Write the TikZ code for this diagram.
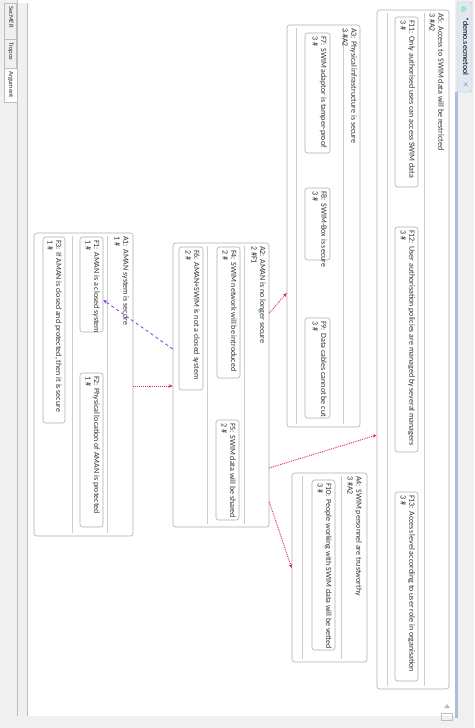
\documentclass[tikz,border=0pt]{standalone}
\usepackage{fontspec}
\setmainfont{Carlito}
\usetikzlibrary{fit,arrows.meta}

\definecolor{boxline}{RGB}{175,175,175}
\definecolor{sepline}{RGB}{205,205,205}
\definecolor{linkred}{RGB}{228,40,70}
\definecolor{linkpurple}{RGB}{135,55,235}
\definecolor{chrome}{RGB}{240,240,240}
\definecolor{chromeline}{RGB}{190,190,190}
\definecolor{tabblue}{RGB}{170,190,220}

\begin{document}
\begin{tikzpicture}[x=1pt,y=-1pt,
  goal/.style={draw=boxline, rounded corners=2.5pt, fill=white, inner sep=0pt, line width=0.6pt},
  fact/.style={goal},
  lbl/.style={rotate=-90, anchor=north west, align=left, inner sep=0pt, font=\fontsize{8}{8.6}\selectfont, text=black!80},
  tablbl/.style={lbl, font=\fontsize{6.6}{7}\selectfont},
  comp/.style={draw=sepline, line width=0.6pt},
  support/.style={draw=linkred, densely dotted, line width=0.9pt, -{Stealth[length=4pt,width=3.5pt]}},
  conflict/.style={draw=linkpurple, dashed, line width=0.8pt, -{Stealth[length=4pt,width=3.5pt]}}]

\useasboundingbox (0,0) rectangle (474,728);
\fill[white] (0,0) rectangle (474,728);

% window
\fill[chrome] (0,0) rectangle (18,728);
\fill[chrome] (0,716) rectangle (474,728);
\fill[chrome] (455,0) rectangle (474,728);
\draw[chromeline] (17.5,0) -- (17.5,716);
\fill[chrome] (18,3) rectangle (27,716);
\draw[chromeline] (27,3) -- (27,716);
\fill[tabblue] (455,92) rectangle (458,718);
\draw[chromeline, fill=chrome] (4,3) rectangle (16,39);
\draw[chromeline, fill=chrome] (4,39) rectangle (16,68);
\draw[chromeline, fill=white] (4,68) rectangle (17,102);
\node[tablbl] (tsec) at (13.5,6) {SecMER};
\node[tablbl] (ttro) at (13.5,42) {Tropos};
\node[tablbl] (targ) at (13.5,71) {Argument};
\draw[chromeline, fill=tabblue!35, rounded corners=2pt] (457,2) rectangle (472,92);
\node[lbl, text=black] (tdemo) at (469,17) {*demo.secmetool};
\node[lbl, text=black!60] (tclose) at (469,81) {$\times$};
\fill[tabblue!60!green!60] (463.5,9) circle (3pt);
\fill[chrome!80!black] (447,704) -- (450,708) -- (444,708) -- cycle;
\draw[chromeline] (441,713) rectangle (452,720);

% A5
\node[goal, fit={(377,10) (449,689)}] (a5) {};
\draw[comp] (387,13) -- (387,686);
\draw[comp] (424,13) -- (424,686);
\node[lbl] (a5t) at (444,13) {A5: Access to SWIM data will be restricted\\3 \#A2};
\node[fact, fit={(395,17) (418,187)}] (f11) {};
\node[lbl] (f11t) at (415,20) {F11: Only authorised uses can access SWIM data\\3 \#};
\node[fact, fit={(395,227) (418,452)}] (f12) {};
\node[lbl] (f12t) at (415,230) {F12: User authorisation policies are managed by several managers\\3 \#};
\node[fact, fit={(395,492) (418,681)}] (f13) {};
\node[lbl] (f13t) at (415,495) {F13: Access level according to user role in organisation\\3 \#};

% A3
\node[goal, fit={(287,25) (360,427)}] (a3) {};
\draw[comp] (296,28) -- (296,424);
\draw[comp] (343,28) -- (343,424);
\node[lbl] (a3t) at (357,28) {A3: Physical infrastructure is secure\\3 \#A2};
\node[fact, fit={(305,33) (330,153)}] (f7) {};
\node[lbl] (f7t) at (327,36) {F7: SWIM adaptor is tamper-proof\\3 \#};
\node[fact, fit={(305,188) (330,260)}] (f8) {};
\node[lbl] (f8t) at (327,191) {F8: SWIM-Box is secure\\3 \#};
\node[fact, fit={(305,318) (330,418)}] (f9) {};
\node[lbl] (f9t) at (327,321) {F9: Data cables cannot be cut\\3 \#};

% A4
\node[goal, fit={(292,473) (367,662)}] (a4) {};
\draw[comp] (302,476) -- (302,659);
\draw[comp] (341,476) -- (341,659);
\node[lbl] (a4t) at (362,476) {A4: SWIM personnel are trustworthy\\3 \#A2};
\node[fact, fit={(312,480) (335,650)}] (f10) {};
\node[lbl] (f10t) at (332,483) {F10: People working with SWIM data will be vetted\\3 \#};

% A2
\node[goal, fit={(173,243) (269,527)}] (a2) {};
\draw[comp] (207,246) -- (207,524);
\draw[comp] (244,246) -- (244,524);
\node[lbl] (a2t) at (266,246) {A2: AMAN is no longer secure\\2 \#F1};
\node[fact, fit={(217,247) (240,378)}] (f4) {};
\node[lbl] (f4t) at (237,250) {F4: SWIM network will be introduced\\2 \#};
\node[fact, fit={(216,420) (239,520)}] (f5) {};
\node[lbl] (f5t) at (236,423) {F5: SWIM data will be shared\\2 \#};
\node[fact, fit={(179,247) (203,390)}] (f6) {};
\node[lbl] (f6t) at (200,250) {F6: AMAN+SWIM is not a closed system\\2 \#};

% A1
\node[goal, fit={(34,233) (133,536)}] (a1) {};
\draw[comp] (72,236) -- (72,533);
\draw[comp] (107,236) -- (107,533);
\node[lbl] (a1t) at (129,236) {A1: AMAN system is secure\\1 \#};
\node[fact, fit={(80,237) (103,332)}] (f1) {};
\node[lbl] (f1t) at (100,240) {F1: AMAN is a closed system\\1 \#};
\node[fact, fit={(80,373) (103,527)}] (f2) {};
\node[lbl] (f2t) at (100,376) {F2: Physical location of AMAN is protected\\1 \#};
\node[fact, fit={(43,237) (65,423)}] (f3) {};
\node[lbl] (f3t) at (62,240) {F3: If AMAN is closed and protected, then it is secure\\1 \#};

% links
\draw[conflict] (a2.west |- 0,349) -- (f1.east |- 0,300);
\draw[support] (a1.east |- 0,386) -- (a2.west |- 0,386);
\draw[support] (a2.east |- 0,313) -- (a3.west |- 0,293);
\draw[support] (a2.east |- 0,468) -- (a5.west |- 0,435);
\draw[support] (a2.east |- 0,502) -- (a4.west |- 0,568);

\end{tikzpicture}
\end{document}
